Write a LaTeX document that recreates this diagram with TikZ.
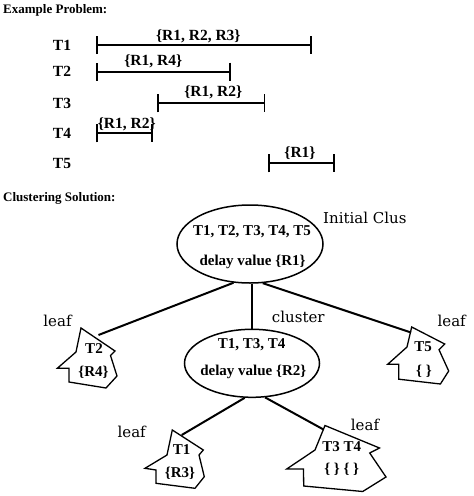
\documentclass[tikz,border=0pt]{standalone}
\usepackage{fontspec}
\setmainfont{Liberation Serif}
\newfontfamily\annot{DejaVu Serif}
\usetikzlibrary{shapes.geometric,arrows.meta}
\begin{document}
\begin{tikzpicture}[x=1pt,y=-1pt,
  title/.style={font=\fontsize{13}{15}\selectfont\bfseries, anchor=west, inner sep=0},
  tlabel/.style={font=\fontsize{15.5}{17}\selectfont\bfseries, inner sep=0},
  btext/.style={font=\fontsize{15.5}{17}\selectfont\bfseries, inner sep=0},
  intext/.style={font=\fontsize{15}{17}\selectfont\bfseries, inner sep=0},
  span/.style={line width=1.8pt, {Bar[width=18pt]}-{Bar[width=18pt]}},
  ellnode/.style={ellipse, draw, line width=1.5pt, inner sep=0},
  edge/.style={line width=2pt},
  leafpoly/.style={line width=1.3pt, line join=miter},
  note/.style={font=\annot\fontsize{15}{17}\selectfont, inner sep=0},
]
\useasboundingbox (0,0) rectangle (474,496);

% ---------- Example problem ----------
\node[title] (ex) at (3,10) {Example Problem:};

\node[tlabel] (l1) at (62,45) {T1};
\node[tlabel] (l2) at (62,71.7) {T2};
\node[tlabel] (l3) at (62,103.3) {T3};
\node[tlabel] (l4) at (62,133.3) {T4};
\node[tlabel] (l5) at (62,163.3) {T5};

\coordinate (b1s) at (96.3,45);    \coordinate (b1e) at (311.7,45);
\coordinate (b2s) at (96.3,71.7);  \coordinate (b2e) at (231,71.7);
\coordinate (b3s) at (157.3,103.3);\coordinate (b3e) at (265.3,103.3);
\coordinate (b4s) at (96.3,133.3); \coordinate (b4e) at (152.7,133.3);
\coordinate (b5s) at (268.3,163.3);\coordinate (b5e) at (335,163.3);
\draw[span] (b1s) -- (b1e);
\draw[span] (b2s) -- (b2e);
\draw[span] (b3s) -- (b3e);
\draw[span] (b4s) -- (b4e);
\draw[span] (b5s) -- (b5e);

\node[btext] (r1) at (198.3,36) {\{R1, R2, R3\}};
\node[btext] (r2) at (153.3,61) {\{R1, R4\}};
\node[btext] (r3) at (213.3,92.7) {\{R1, R2\}};
\node[btext] (r4) at (126.7,124) {\{R1, R2\}};
\node[btext] (r5) at (300,153.3) {\{R1\}};

% ---------- Clustering solution ----------
\node[title] (cs) at (3,198) {Clustering Solution:};

\node[ellnode, minimum width=146pt, minimum height=78pt] (root) at (250,244) {};
\node[intext] (roota) at (252,232) {T1, T2, T3, T4, T5};
\node[intext] (rootb) at (252.5,261.5) {delay value \{R1\}};
\node[note, anchor=west] (initial) at (323,218.3) {Initial Clus};

\node[ellnode, minimum width=135pt, minimum height=68pt] (clus) at (252,363.3) {};
\node[intext] (clusa) at (251.7,345) {T1, T3, T4};
\node[intext] (clusb) at (253.3,371.7) {delay value \{R2\}};
\node[note] (clusl) at (298.3,317.3) {cluster};

% leaves (house shapes)
\draw[leafpoly] (81,328) -- (115,351) -- (110.5,355.5) -- (117,376) -- (106,388)
  -- (69,382) -- (69,368.3) -- (57.3,368.3) -- (76,352) -- cycle;
\coordinate (t2top) at (98.5,335);
\node[intext] (t2a) at (94,348.3) {T2};
\node[intext] (t2b) at (93.5,372) {\{R4\}};
\node[note] (leaf2) at (57.5,320.7) {leaf};

\draw[leafpoly] (411.7,327) -- (444.7,344) -- (439,349.7) -- (448.7,371) -- (440.4,384)
  -- (398.8,379.2) -- (398.8,364.2) -- (387.8,364.2) -- (407,347) -- cycle;
\coordinate (t5top) at (411,332.5);
\node[intext] (t5a) at (423,346.7) {T5};
\node[intext] (t5b) at (424,371.7) {\{ \}};
\node[note] (leaf5) at (451.7,320.7) {leaf};

\draw[leafpoly] (172.3,430) -- (203.3,450) -- (199,455) -- (204.3,476.7) -- (195,488.3)
  -- (156,483.3) -- (156,470) -- (145,468.3) -- (167,455) -- cycle;
\coordinate (t1top) at (181.7,435);
\node[intext] (t1a) at (181.7,450) {T1};
\node[intext] (t1b) at (180,473.5) {\{R3\}};
\node[note] (leaf1) at (131.7,431.7) {leaf};

\draw[leafpoly] (325,425.5) -- (379.5,448) -- (369.7,453) -- (386,477) -- (362.7,491.5)
  -- (303.7,486) -- (303.5,469) -- (286.7,469) -- (315,450) -- cycle;
\coordinate (t34top) at (323.5,429.5);
\node[intext] (t34a) at (341.7,446.7) {T3 T4};
\node[intext] (t34b) at (341.7,469) {\{ \} \{ \}};
\node[note] (leaf34) at (365,425) {leaf};

% edges
\draw[edge] (root.247) -- (t2top);
\draw[edge] (clus.north |- root.south) -- (clus.north);
\draw[edge] (root.288.7) -- (t5top);
\draw[edge] (clus.258) -- (t1top);
\draw[edge] (clus.291) -- (t34top);
\end{tikzpicture}
\end{document}
